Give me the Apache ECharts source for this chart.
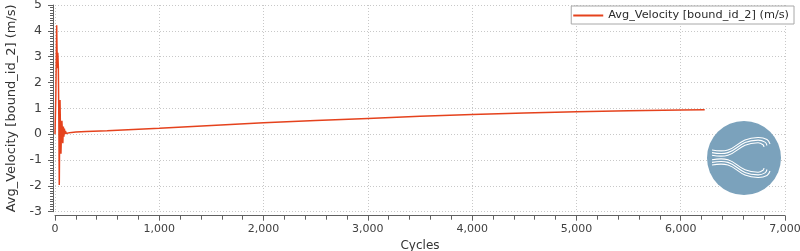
<!DOCTYPE html>
<html>
<head>
<meta charset="utf-8">
<script src="https://cdn.jsdelivr.net/npm/echarts@6/dist/echarts.min.js"></script>
<style>
html,body{margin:0;padding:0;background:#fff;}
#chart{width:800px;height:251px;}
</style>
</head>
<body>
<div id="chart"></div>
<script>
// ---- data ----
const seriesName = 'Avg_Velocity [bound_id_2] (m/s)';
const xTitle = 'Cycles';
const yTitle = 'Avg_Velocity [bound_id_2] (m/s)';
const xTicks = [0, 1000, 2000, 3000, 4000, 5000, 6000, 7000];
const yTicks = [-3, -2, -1, 0, 1, 2, 3, 4, 5];
const cycles = [0, 8, 16, 22, 27, 32, 37, 41, 45, 48, 52, 57, 62, 66, 70, 75, 80, 85, 90, 95, 100, 108, 115, 125, 140, 160, 200, 300, 500, 750, 1000, 1500, 2000, 2500, 3000, 3500, 4000, 4500, 5000, 5500, 6000, 6230];
const velocity = [0, 1.5, 4.22, 2.55, 3.15, 2.6, 0.5, -1.97, 0.2, 1.32, 0.3, -0.76, 0.1, 0.52, 0.2, -0.35, 0.3, -0.1, 0.22, 0.0, 0.12, 0.03, 0.08, 0.05, 0.06, 0.07, 0.08, 0.1, 0.13, 0.18, 0.23, 0.34, 0.44, 0.53, 0.61, 0.69, 0.76, 0.82, 0.87, 0.91, 0.94, 0.95];

const lineColor = '#e5421d';
const gridColor = '#c8c8c8';
const axisColor = '#606060';
const font = 'DejaVu Sans';

const fmt = v => String(v).replace(/\B(?=(\d{3})+(?!\d))/g, ',');

// logo lines
const logo = [];
logo.push({type:'circle', shape:{cx:744, cy:158, r:37}, style:{fill:'#7ba2bc'}, silent:true, z:10});
for (let k = 0; k < 3; k++) {
  const up = [[712,150+2.6*k],[728,150+2.6*k],[745,140+2.6*k],[758,137.5+2.6*k],[767-2*k,139.5+2.6*k],[770-3*k,144+1.5*k]];
  const dn = up.map(p => [p[0], 315 - p[1]]);
  [up, dn].forEach(pts => logo.push({type:'polyline', shape:{points:pts, smooth:0.4}, style:{stroke:'#fff', lineWidth:1.1, fill:null}, silent:true, z:11}));
}

const chart = echarts.init(document.getElementById('chart'), null, {renderer:'canvas'});
chart.setOption({
  backgroundColor:'#fff',
  animation:false,
  grid:{left:55, right:15, top:5, bottom:39.3, containLabel:false, outerBoundsMode:'none'},
  legend:{
    right:6, top:6,
    data:[{name:seriesName, icon:'rect'}],
    itemWidth:30, itemHeight:2,
    borderColor:'#a8a8a8', borderWidth:1, backgroundColor:'#fff',
    padding:[4,5,3,2],
    textStyle:{fontFamily:font, fontSize:11.3, color:'#2a2a2a'}
  },
  xAxis:{
    type:'value', min:xTicks[0], max:xTicks[xTicks.length-1], interval:1000,
    offset:4,
    name:xTitle, nameLocation:'middle', nameGap:22,
    nameTextStyle:{fontFamily:font, fontSize:12, color:'#333'},
    axisLine:{show:true, onZero:false, lineStyle:{color:axisColor, width:1}},
    axisTick:{show:true, length:5, lineStyle:{color:axisColor}},
    minorTick:{show:true, splitNumber:5, length:4, lineStyle:{color:axisColor}},
    axisLabel:{formatter:fmt, fontFamily:font, fontSize:11, color:'#404040', margin:8},
    splitLine:{show:true, lineStyle:{color:gridColor, type:[1,2], width:1}}
  },
  yAxis:{
    type:'value', min:yTicks[0], max:yTicks[yTicks.length-1], interval:1,
    offset:2,
    name:yTitle, nameLocation:'middle', nameGap:35, nameRotate:90,
    nameTextStyle:{fontFamily:font, fontSize:13, color:'#333'},
    axisLine:{show:true, onZero:false, lineStyle:{color:axisColor, width:1}},
    axisTick:{show:true, length:5, lineStyle:{color:axisColor}},
    minorTick:{show:true, splitNumber:10, length:3, lineStyle:{color:axisColor}},
    axisLabel:{fontFamily:font, fontSize:12.5, color:'#404040', margin:11},
    splitLine:{show:true, lineStyle:{color:gridColor, type:[1,2], width:1}}
  },
  graphic:logo,
  series:[{
    name:seriesName, type:'line',
    data:cycles.map((c,i)=>[c, velocity[i]]),
    showSymbol:false, symbol:'none',
    lineStyle:{color:lineColor, width:1.5},
    itemStyle:{color:lineColor},
    z:5
  }]
});
</script>
</body>
</html>
